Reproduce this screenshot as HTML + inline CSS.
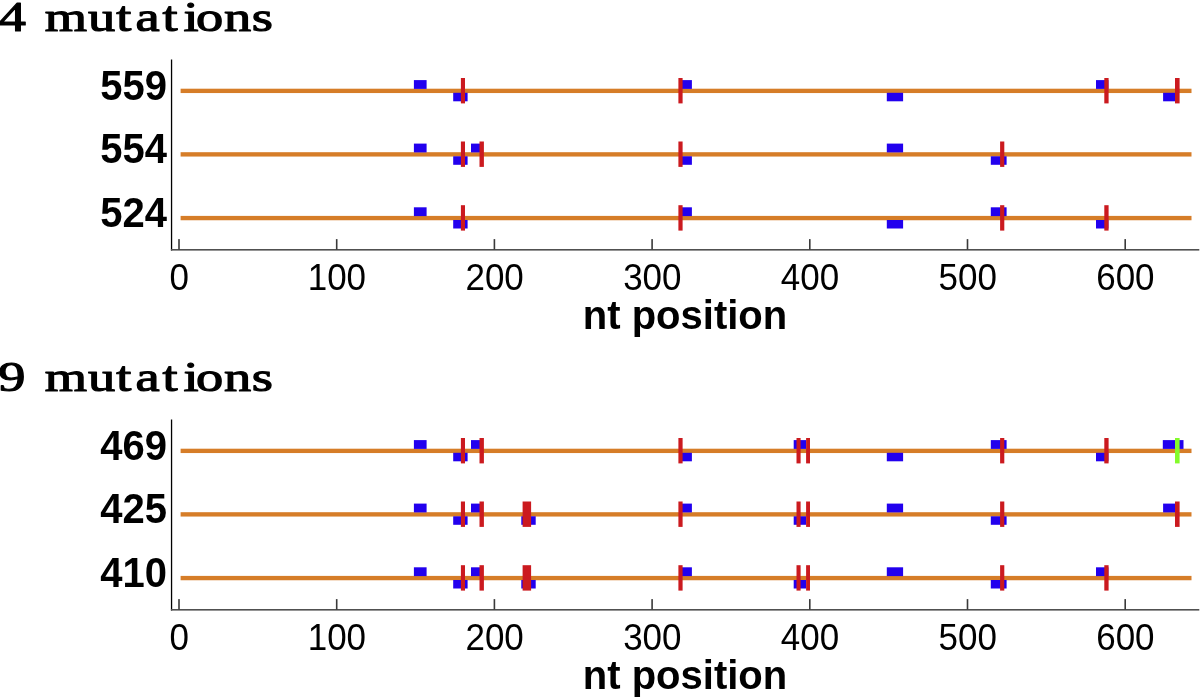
<!DOCTYPE html>
<html><head><meta charset="utf-8"><title>mutations</title>
<style>
html,body{margin:0;padding:0;background:#fff;}
svg{display:block;}
.ttl{font-family:"Liberation Serif","DejaVu Serif",serif;font-weight:normal;font-size:42.5px;fill:#000;stroke:#000;stroke-width:1.15px;stroke-linejoin:round;}
.tk{font-family:"Liberation Sans",Arial,Helvetica,sans-serif;font-size:35.5px;fill:#000;text-anchor:middle;}
.yl{font-family:"Liberation Sans",Arial,Helvetica,sans-serif;font-weight:bold;font-size:40px;fill:#000;text-anchor:end;}
.xl{font-family:"Liberation Sans",Arial,Helvetica,sans-serif;font-weight:bold;font-size:40px;fill:#000;text-anchor:middle;}
</style></head>
<body>
<svg width="1200" height="698" viewBox="0 0 1200 698" shape-rendering="geometricPrecision">
<rect width="1200" height="698" fill="#fff"/>
<text transform="translate(0 31.3) scale(1.28 1)" x="-1.00 23.89 34.95 68.72 90.74 105.83 126.91 143.31 153.05 175.10 196.68" y="0" class="ttl">4 mutations</text>
<rect x="170.9" y="59.5" width="1.3" height="191" fill="#000"/>
<rect x="170.9" y="249.0" width="1028.4" height="1.6" fill="#505050"/>
<rect x="178.2" y="239.1" width="1.6" height="10.5" fill="#3a3a3a"/>
<text transform="translate(179.2 290.3) scale(0.985 1.04)" class="tk">0</text>
<rect x="335.9" y="239.1" width="1.6" height="10.5" fill="#3a3a3a"/>
<text transform="translate(336.9 290.3) scale(0.985 1.04)" class="tk">100</text>
<rect x="493.6" y="239.1" width="1.6" height="10.5" fill="#3a3a3a"/>
<text transform="translate(494.6 290.3) scale(0.985 1.04)" class="tk">200</text>
<rect x="651.3" y="239.1" width="1.6" height="10.5" fill="#3a3a3a"/>
<text transform="translate(652.3 290.3) scale(0.985 1.04)" class="tk">300</text>
<rect x="809.0" y="239.1" width="1.6" height="10.5" fill="#3a3a3a"/>
<text transform="translate(810.0 290.3) scale(0.985 1.04)" class="tk">400</text>
<rect x="966.7" y="239.1" width="1.6" height="10.5" fill="#3a3a3a"/>
<text transform="translate(967.7 290.3) scale(0.985 1.04)" class="tk">500</text>
<rect x="1124.4" y="239.1" width="1.6" height="10.5" fill="#3a3a3a"/>
<text transform="translate(1125.4 290.3) scale(0.985 1.04)" class="tk">600</text>
<text x="685" y="328.6" class="xl">nt position</text>
<text transform="translate(166.9 99.9) scale(1 1.04)" class="yl">559</text>
<rect x="180.6" y="88.70" width="1010.9" height="4.35" fill="#d67d28"/>
<rect x="413.9" y="80.1" width="12.7" height="8.8" fill="#2200ee"/>
<rect x="453.2" y="92.8" width="14.4" height="8.5" fill="#2200ee"/>
<rect x="682" y="80.1" width="9.9" height="8.8" fill="#2200ee"/>
<rect x="886.8" y="92.8" width="16.3" height="8.5" fill="#2200ee"/>
<rect x="1096" y="80.1" width="12.4" height="8.8" fill="#2200ee"/>
<rect x="1163.1" y="92.8" width="12.4" height="8.5" fill="#2200ee"/>
<rect x="460.9" y="78.0" width="4.1" height="25.4" fill="#cb1a1f"/>
<rect x="678.4" y="78.0" width="4.2" height="25.4" fill="#cb1a1f"/>
<rect x="1104.3" y="78.0" width="4.3" height="25.4" fill="#cb1a1f"/>
<rect x="1175" y="78.0" width="4.6" height="25.4" fill="#cb1a1f"/>
<text transform="translate(166.9 163.4) scale(1 1.04)" class="yl">554</text>
<rect x="180.6" y="152.20" width="1010.9" height="4.35" fill="#d67d28"/>
<rect x="413.9" y="143.6" width="12.7" height="8.8" fill="#2200ee"/>
<rect x="453.2" y="156.3" width="14.4" height="8.5" fill="#2200ee"/>
<rect x="471" y="143.6" width="9.5" height="8.8" fill="#2200ee"/>
<rect x="682" y="156.3" width="9.9" height="8.5" fill="#2200ee"/>
<rect x="886.8" y="143.6" width="16.3" height="8.8" fill="#2200ee"/>
<rect x="990.8" y="156.3" width="15.8" height="8.5" fill="#2200ee"/>
<rect x="460.9" y="141.5" width="4.1" height="25.4" fill="#cb1a1f"/>
<rect x="479.5" y="141.5" width="4.4" height="25.4" fill="#cb1a1f"/>
<rect x="678.4" y="141.5" width="4.2" height="25.4" fill="#cb1a1f"/>
<rect x="1000.1" y="141.5" width="4.2" height="25.4" fill="#cb1a1f"/>
<text transform="translate(166.9 227.1) scale(1 1.04)" class="yl">524</text>
<rect x="180.6" y="215.90" width="1010.9" height="4.35" fill="#d67d28"/>
<rect x="413.9" y="207.3" width="12.7" height="8.8" fill="#2200ee"/>
<rect x="453.2" y="220.0" width="14.4" height="8.5" fill="#2200ee"/>
<rect x="682" y="207.3" width="9.9" height="8.8" fill="#2200ee"/>
<rect x="886.8" y="220.0" width="16.3" height="8.5" fill="#2200ee"/>
<rect x="990.8" y="207.3" width="15.8" height="8.8" fill="#2200ee"/>
<rect x="1096" y="220.0" width="12.4" height="8.5" fill="#2200ee"/>
<rect x="460.9" y="205.2" width="4.1" height="25.4" fill="#cb1a1f"/>
<rect x="678.4" y="205.2" width="4.2" height="25.4" fill="#cb1a1f"/>
<rect x="1000.1" y="205.2" width="4.2" height="25.4" fill="#cb1a1f"/>
<rect x="1104.3" y="205.2" width="4.3" height="25.4" fill="#cb1a1f"/>
<text transform="translate(0 391.3) scale(1.28 1)" x="-1.45 23.89 34.95 68.72 90.74 105.83 126.91 143.31 153.05 175.10 196.68" y="0" class="ttl">9 mutations</text>
<rect x="170.9" y="419.5" width="1.3" height="191" fill="#000"/>
<rect x="170.9" y="609.0" width="1028.4" height="1.6" fill="#505050"/>
<rect x="178.2" y="599.1" width="1.6" height="10.5" fill="#3a3a3a"/>
<text transform="translate(179.2 650.3) scale(0.985 1.04)" class="tk">0</text>
<rect x="335.9" y="599.1" width="1.6" height="10.5" fill="#3a3a3a"/>
<text transform="translate(336.9 650.3) scale(0.985 1.04)" class="tk">100</text>
<rect x="493.6" y="599.1" width="1.6" height="10.5" fill="#3a3a3a"/>
<text transform="translate(494.6 650.3) scale(0.985 1.04)" class="tk">200</text>
<rect x="651.3" y="599.1" width="1.6" height="10.5" fill="#3a3a3a"/>
<text transform="translate(652.3 650.3) scale(0.985 1.04)" class="tk">300</text>
<rect x="809.0" y="599.1" width="1.6" height="10.5" fill="#3a3a3a"/>
<text transform="translate(810.0 650.3) scale(0.985 1.04)" class="tk">400</text>
<rect x="966.7" y="599.1" width="1.6" height="10.5" fill="#3a3a3a"/>
<text transform="translate(967.7 650.3) scale(0.985 1.04)" class="tk">500</text>
<rect x="1124.4" y="599.1" width="1.6" height="10.5" fill="#3a3a3a"/>
<text transform="translate(1125.4 650.3) scale(0.985 1.04)" class="tk">600</text>
<text x="685" y="688.6" class="xl">nt position</text>
<text transform="translate(166.9 459.9) scale(1 1.04)" class="yl">469</text>
<rect x="180.6" y="448.70" width="1010.9" height="4.35" fill="#d67d28"/>
<rect x="413.9" y="440.1" width="12.7" height="8.8" fill="#2200ee"/>
<rect x="453.2" y="452.8" width="14.4" height="8.5" fill="#2200ee"/>
<rect x="471" y="440.1" width="9.5" height="8.8" fill="#2200ee"/>
<rect x="682" y="452.8" width="9.9" height="8.5" fill="#2200ee"/>
<rect x="793.7" y="440.1" width="12.4" height="8.8" fill="#2200ee"/>
<rect x="886.8" y="452.8" width="16.3" height="8.5" fill="#2200ee"/>
<rect x="990.8" y="440.1" width="15.8" height="8.8" fill="#2200ee"/>
<rect x="1096" y="452.8" width="12.4" height="8.5" fill="#2200ee"/>
<rect x="1162.8" y="440.1" width="20.7" height="8.8" fill="#2200ee"/>
<rect x="460.9" y="438.0" width="4.1" height="25.4" fill="#cb1a1f"/>
<rect x="479.5" y="438.0" width="4.4" height="25.4" fill="#cb1a1f"/>
<rect x="678.4" y="438.0" width="4.2" height="25.4" fill="#cb1a1f"/>
<rect x="796.5" y="438.0" width="4.1" height="25.4" fill="#cb1a1f"/>
<rect x="806.1" y="438.0" width="3.9" height="25.4" fill="#cb1a1f"/>
<rect x="1000.1" y="438.0" width="4.2" height="25.4" fill="#cb1a1f"/>
<rect x="1104.3" y="438.0" width="4.3" height="25.4" fill="#cb1a1f"/>
<rect x="1175" y="438.0" width="4.6" height="25.4" fill="#84fb2a"/>
<text transform="translate(166.9 523.4) scale(1 1.04)" class="yl">425</text>
<rect x="180.6" y="512.20" width="1010.9" height="4.35" fill="#d67d28"/>
<rect x="413.9" y="503.6" width="12.7" height="8.8" fill="#2200ee"/>
<rect x="453.2" y="516.3" width="14.4" height="8.5" fill="#2200ee"/>
<rect x="471" y="503.6" width="9.5" height="8.8" fill="#2200ee"/>
<rect x="521.3" y="516.3" width="14.4" height="8.5" fill="#2200ee"/>
<rect x="682" y="503.6" width="9.9" height="8.8" fill="#2200ee"/>
<rect x="793.7" y="516.3" width="12.4" height="8.5" fill="#2200ee"/>
<rect x="886.8" y="503.6" width="16.3" height="8.8" fill="#2200ee"/>
<rect x="990.8" y="516.3" width="15.8" height="8.5" fill="#2200ee"/>
<rect x="1163.1" y="503.6" width="12.4" height="8.8" fill="#2200ee"/>
<rect x="460.9" y="501.5" width="4.1" height="25.4" fill="#cb1a1f"/>
<rect x="479.5" y="501.5" width="4.4" height="25.4" fill="#cb1a1f"/>
<rect x="522.6" y="501.5" width="8.5" height="25.4" fill="#cb1a1f"/>
<rect x="678.4" y="501.5" width="4.2" height="25.4" fill="#cb1a1f"/>
<rect x="796.5" y="501.5" width="4.1" height="25.4" fill="#cb1a1f"/>
<rect x="806.1" y="501.5" width="3.9" height="25.4" fill="#cb1a1f"/>
<rect x="1000.1" y="501.5" width="4.2" height="25.4" fill="#cb1a1f"/>
<rect x="1175" y="501.5" width="4.6" height="25.4" fill="#cb1a1f"/>
<text transform="translate(166.9 587.1) scale(1 1.04)" class="yl">410</text>
<rect x="180.6" y="575.90" width="1010.9" height="4.35" fill="#d67d28"/>
<rect x="413.9" y="567.3" width="12.7" height="8.8" fill="#2200ee"/>
<rect x="453.2" y="580.0" width="14.4" height="8.5" fill="#2200ee"/>
<rect x="471" y="567.3" width="9.5" height="8.8" fill="#2200ee"/>
<rect x="521.3" y="580.0" width="14.4" height="8.5" fill="#2200ee"/>
<rect x="682" y="567.3" width="9.9" height="8.8" fill="#2200ee"/>
<rect x="793.7" y="580.0" width="12.4" height="8.5" fill="#2200ee"/>
<rect x="886.8" y="567.3" width="16.3" height="8.8" fill="#2200ee"/>
<rect x="990.8" y="580.0" width="15.8" height="8.5" fill="#2200ee"/>
<rect x="1096" y="567.3" width="12.4" height="8.8" fill="#2200ee"/>
<rect x="460.9" y="565.2" width="4.1" height="25.4" fill="#cb1a1f"/>
<rect x="479.5" y="565.2" width="4.4" height="25.4" fill="#cb1a1f"/>
<rect x="522.6" y="565.2" width="8.5" height="25.4" fill="#cb1a1f"/>
<rect x="678.4" y="565.2" width="4.2" height="25.4" fill="#cb1a1f"/>
<rect x="796.5" y="565.2" width="4.1" height="25.4" fill="#cb1a1f"/>
<rect x="806.1" y="565.2" width="3.9" height="25.4" fill="#cb1a1f"/>
<rect x="1000.1" y="565.2" width="4.2" height="25.4" fill="#cb1a1f"/>
<rect x="1104.3" y="565.2" width="4.3" height="25.4" fill="#cb1a1f"/>
</svg>
</body></html>
